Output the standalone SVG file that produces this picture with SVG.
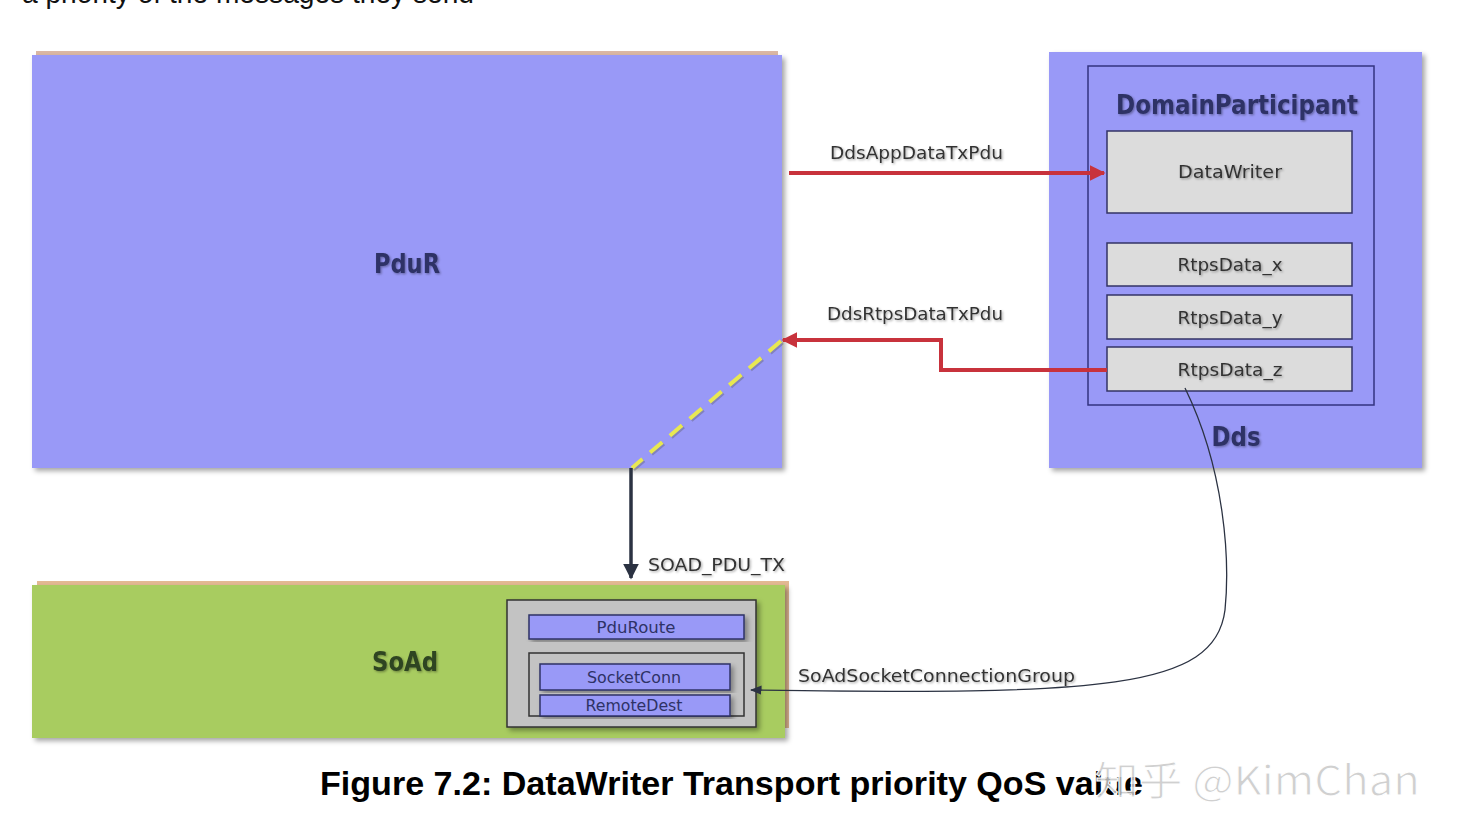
<svg xmlns="http://www.w3.org/2000/svg" width="1458" height="838" viewBox="0 0 1458 838">
<defs>
<filter id="sh" x="-5%" y="-5%" width="112%" height="115%"><feDropShadow dx="3" dy="3" stdDeviation="2.5" flood-color="#000" flood-opacity="0.35"/></filter>
<filter id="tsh" x="-10%" y="-30%" width="130%" height="170%"><feDropShadow dx="1.2" dy="1.2" stdDeviation="0.8" flood-color="#000" flood-opacity="0.35"/></filter>
<marker id="ar" viewBox="0 0 10 10" refX="9" refY="5" markerWidth="4" markerHeight="4" orient="auto"><path d="M0,0 L10,5 L0,10 z" fill="#c8323c"/></marker>
<marker id="an" viewBox="0 0 10 10" refX="9" refY="5" markerWidth="4.5" markerHeight="4.5" orient="auto"><path d="M0,0 L10,5 L0,10 z" fill="#2b3242"/></marker>
<marker id="at" viewBox="0 0 10 10" refX="9" refY="5" markerWidth="9" markerHeight="9" orient="auto"><path d="M0,1 L10,5 L0,9 z" fill="#2b3242"/></marker>
</defs>
<style>
.t{font-family:"DejaVu Sans","Liberation Sans",sans-serif;}
.title{fill:#2e3266;font-size:26px;font-weight:bold;}
.lbl{fill:#333;font-size:18px;}
.box{fill:#dcdcdc;stroke:#333366;stroke-width:1.5;}
.pbox{fill:#9999f7;stroke:#2e3266;stroke-width:1.5;}
.red{fill:none;stroke:#c8323c;stroke-width:4;}
</style>
<rect width="1458" height="838" fill="#fff"/>
<text x="22" y="3" font-family="Liberation Sans, Arial, sans-serif" font-size="30" fill="#111" textLength="452" lengthAdjust="spacingAndGlyphs">a priority of the messages they send</text>

<g id="PduR">
<rect x="36" y="51" width="742" height="20" fill="#dbb7a4"/>
<rect x="32" y="55" width="750" height="413" fill="#9999f7" filter="url(#sh)"/>
<text class="t title" x="407" y="273" text-anchor="middle" filter="url(#tsh)" textLength="66" lengthAdjust="spacingAndGlyphs">PduR</text>
</g>

<g id="Dds">
<rect x="1049" y="52" width="373" height="416" fill="#9999f7" filter="url(#sh)"/>
<text class="t title" x="1236" y="446" text-anchor="middle" filter="url(#tsh)" textLength="49" lengthAdjust="spacingAndGlyphs">Dds</text>
</g>
<g id="DomainParticipant">
<rect x="1088" y="66" width="286" height="339" fill="none" stroke="#333380" stroke-width="1.5"/>
<text class="t title" x="1237" y="114" text-anchor="middle" font-size="27" filter="url(#tsh)" textLength="242" lengthAdjust="spacingAndGlyphs">DomainParticipant</text>
</g>
<g id="DataWriter">
<rect class="box" x="1107" y="131" width="245" height="82"/>
<text class="t lbl" x="1230" y="178" text-anchor="middle" filter="url(#tsh)" textLength="104" lengthAdjust="spacingAndGlyphs">DataWriter</text>
</g>
<g id="RtpsData_x">
<rect class="box" x="1107" y="243" width="245" height="43"/>
<text class="t lbl" x="1230" y="271" text-anchor="middle" filter="url(#tsh)" textLength="105" lengthAdjust="spacingAndGlyphs">RtpsData_x</text>
</g>
<g id="RtpsData_y">
<rect class="box" x="1107" y="295" width="245" height="44"/>
<text class="t lbl" x="1230" y="324" text-anchor="middle" filter="url(#tsh)" textLength="105" lengthAdjust="spacingAndGlyphs">RtpsData_y</text>
</g>
<g id="RtpsData_z">
<rect class="box" x="1107" y="347" width="245" height="44"/>
<text class="t lbl" x="1230" y="376" text-anchor="middle" filter="url(#tsh)" textLength="105" lengthAdjust="spacingAndGlyphs">RtpsData_z</text>
</g>

<g id="SoAd">
<rect x="37" y="581" width="752" height="147" fill="#e3b993"/>
<rect x="32" y="585" width="753" height="153" fill="#a8cc60" filter="url(#sh)"/>
<text class="t title" x="405" y="671" text-anchor="middle" style="fill:#2f4420" filter="url(#tsh)" textLength="66" lengthAdjust="spacingAndGlyphs">SoAd</text>
</g>
<g id="SoAdConfig">
<rect x="507" y="600" width="249" height="127" fill="#c3c3c3" stroke="#333" stroke-width="1.5" filter="url(#sh)"/>
<rect x="529" y="653" width="215" height="63" fill="#c3c3c3" stroke="#333" stroke-width="1.5"/>
</g>
<g id="PduRoute">
<rect class="pbox" x="529" y="615" width="215" height="24" filter="url(#sh)"/>
<text class="t" x="636" y="633" text-anchor="middle" font-size="15" fill="#2e3266" textLength="79" lengthAdjust="spacingAndGlyphs">PduRoute</text>
</g>
<g id="SocketConn">
<rect class="pbox" x="540" y="664" width="190" height="26" filter="url(#sh)"/>
<text class="t" x="634" y="683" text-anchor="middle" font-size="15" fill="#2e3266" textLength="94" lengthAdjust="spacingAndGlyphs">SocketConn</text>
</g>
<g id="RemoteDest">
<rect class="pbox" x="540" y="695" width="190" height="21" filter="url(#sh)"/>
<text class="t" x="634" y="711" text-anchor="middle" font-size="15" fill="#2e3266" textLength="97" lengthAdjust="spacingAndGlyphs">RemoteDest</text>
</g>

<g id="connectors">
<path class="red" d="M789,173 L1104,173" marker-end="url(#ar)"/>
<text class="t lbl" x="830" y="159" filter="url(#tsh)" textLength="173" lengthAdjust="spacingAndGlyphs">DdsAppDataTxPdu</text>
<path class="red" d="M1107,370 L941,370 L941,340 L783,340" marker-end="url(#ar)"/>
<text class="t lbl" x="827" y="320" filter="url(#tsh)" textLength="176" lengthAdjust="spacingAndGlyphs">DdsRtpsDataTxPdu</text>
<path d="M781,341 L632,468" fill="none" stroke="#555" stroke-width="4" stroke-dasharray="16,10" opacity="0.35" transform="translate(1.5,1.5)"/>
<path d="M781,341 L632,468" fill="none" stroke="#e8e852" stroke-width="4" stroke-dasharray="16,10"/>
<path d="M631,468 L631,578" fill="none" stroke="#2b3242" stroke-width="3.5" marker-end="url(#an)"/>
<text class="t" x="648" y="571" font-size="17" fill="#333" filter="url(#tsh)" textLength="137" lengthAdjust="spacingAndGlyphs">SOAD_PDU_TX</text>
<path d="M1185,388 C1225,470 1230,560 1225,610 C1215,690 1100,695 751,690" fill="none" stroke="#2b3242" stroke-width="1.3" marker-end="url(#at)"/>
<text class="t" x="798" y="682" font-size="18" fill="#333" filter="url(#tsh)" textLength="277" lengthAdjust="spacingAndGlyphs">SoAdSocketConnectionGroup</text>
</g>

<text x="320" y="795" font-family="Liberation Sans, Arial, sans-serif" font-weight="bold" font-size="33" fill="#000" textLength="823" lengthAdjust="spacingAndGlyphs">Figure 7.2: DataWriter Transport priority QoS value</text>
<text x="1095" y="795" font-family="Noto Sans CJK SC, Liberation Sans, sans-serif" font-size="40" fill="#c8c8c8" fill-opacity="0.85" stroke="#fff" stroke-width="1" textLength="325" lengthAdjust="spacingAndGlyphs">知乎 @KimChan</text>
</svg>
